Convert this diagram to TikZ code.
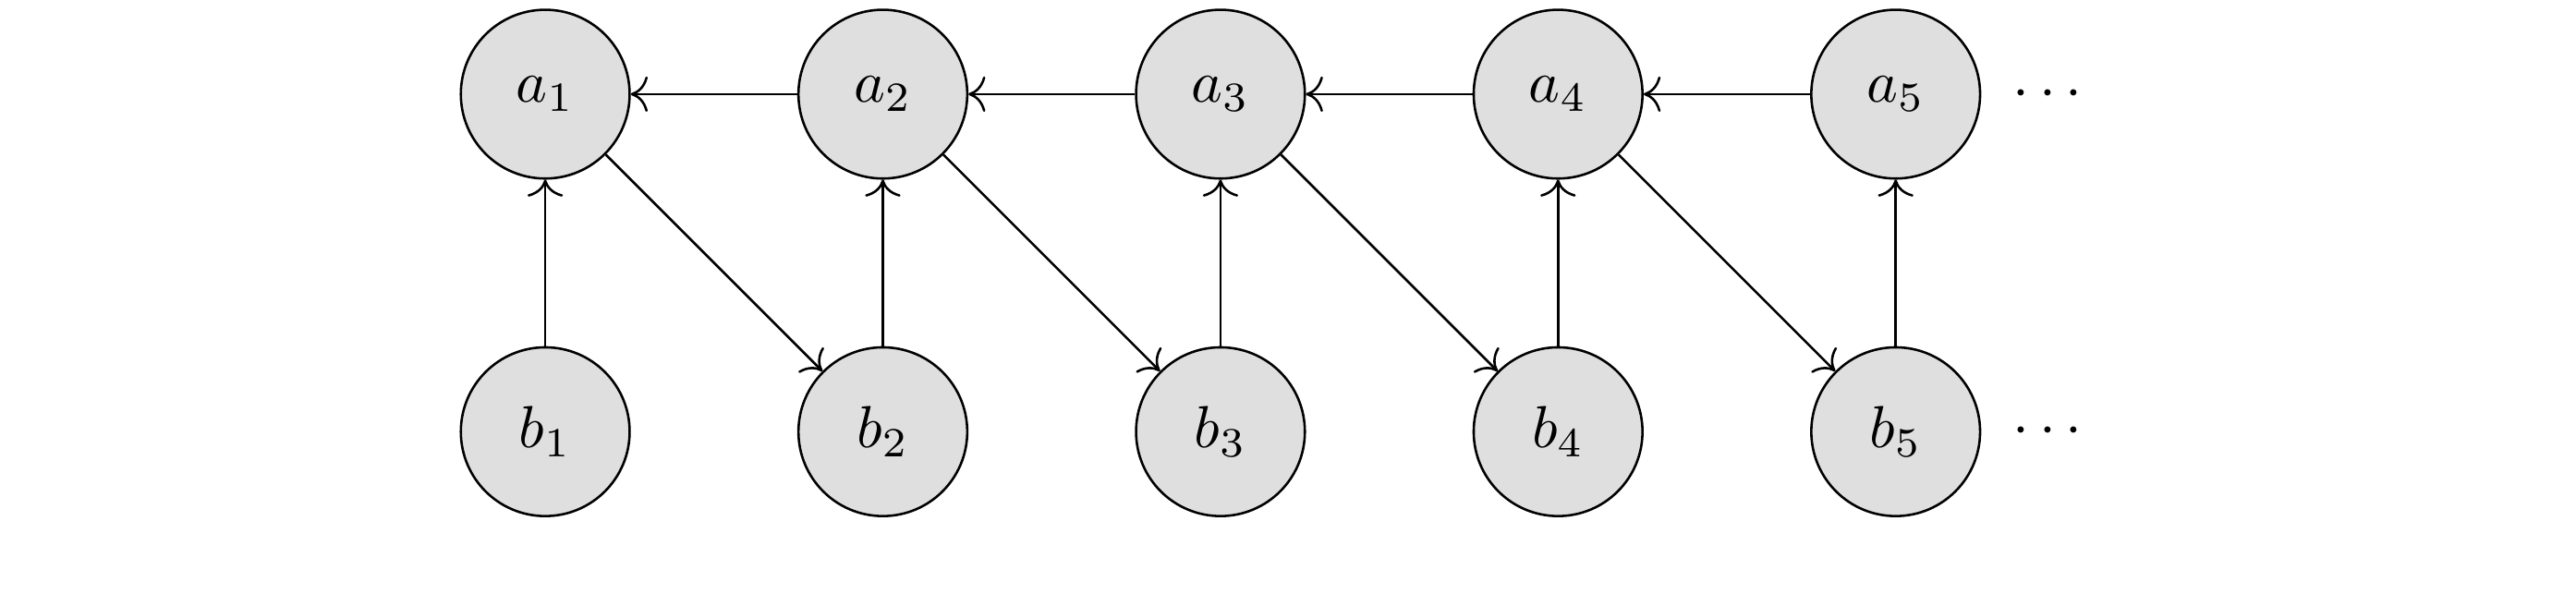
\documentclass[tikz,border=0pt]{standalone}
\usetikzlibrary{arrows.meta}
\begin{document}
\begin{tikzpicture}[
  vtx/.style={circle,draw,fill=gray!25,minimum size=1cm,inner sep=0pt},
  edge/.style={-{Computer Modern Rightarrow[scale=1.15]}}
]
\useasboundingbox (-3.23,-3.032) rectangle (12.03,0.558);
\foreach \i in {1,...,5}{
  \node[vtx] (a\i) at ({2*(\i-1)},0) {$a_{\i}$};
  \node[vtx] (b\i) at ({2*(\i-1)},-2) {$b_{\i}$};
}
\node (da) at (8.9,0) {$\cdots$};
\node (db) at (8.9,-2) {$\cdots$};
\foreach \i/\j in {1/2,2/3,3/4,4/5}{
  \draw[edge] (a\j) -- (a\i);
  \draw[edge] (a\i) -- (b\j);
}
\foreach \i in {1,...,5}{
  \draw[edge] (b\i) -- (a\i);
}
\end{tikzpicture}
\end{document}
